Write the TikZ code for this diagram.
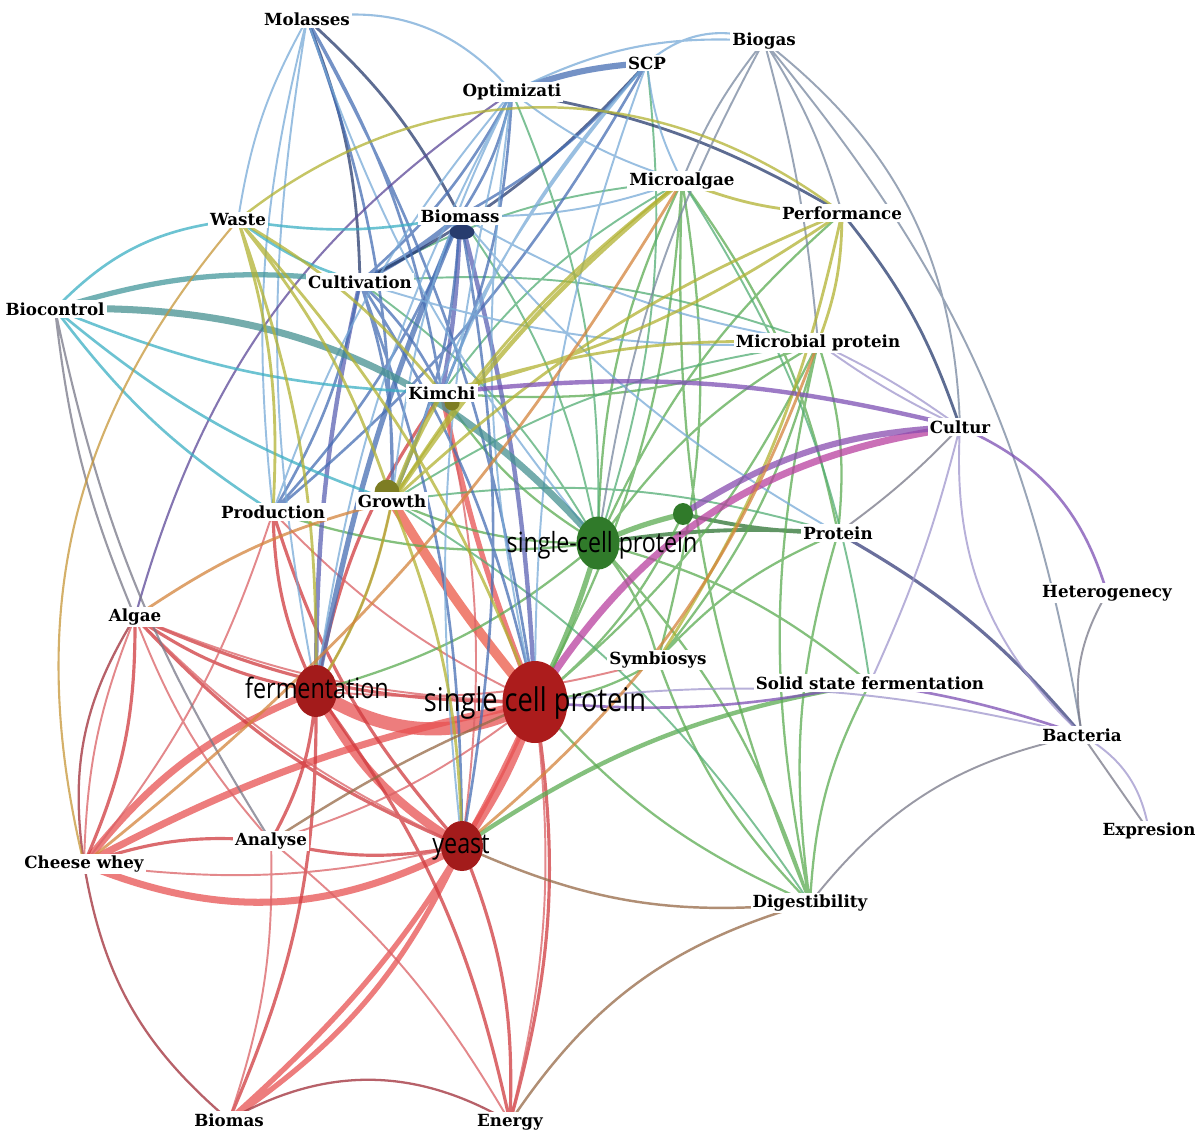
\documentclass[tikz,border=0pt]{standalone}
\usepackage{fontspec}
\usepackage{tikz}
\usetikzlibrary{shapes.geometric}
\newfontfamily\kwfont{DejaVu Serif}
\newfontfamily\hubfont{Open Sans}
\definecolor{rdA}{RGB}{232,82,82}
\definecolor{rdB}{RGB}{208,58,62}
\definecolor{rdC}{RGB}{160,45,55}
\definecolor{grA}{RGB}{92,172,82}
\definecolor{grB}{RGB}{45,115,50}
\definecolor{blA}{RGB}{70,110,180}
\definecolor{blB}{RGB}{40,60,110}
\definecolor{blC}{RGB}{120,170,215}
\definecolor{cyA}{RGB}{60,175,195}
\definecolor{teA}{RGB}{70,145,145}
\definecolor{olA}{RGB}{178,178,50}
\definecolor{puA}{RGB}{125,80,180}
\definecolor{mgA}{RGB}{185,65,160}
\definecolor{lvA}{RGB}{160,150,205}
\definecolor{gyA}{RGB}{120,120,135}
\definecolor{orA}{RGB}{212,132,60}
\definecolor{brA}{RGB}{150,105,70}
\definecolor{hubR}{RGB}{172,28,28}
\definecolor{hubG}{RGB}{48,122,42}
\pgfdeclarelayer{paper}
\pgfdeclarelayer{edges}
\pgfsetlayers{paper,edges,main}

\begin{document}
\begin{tikzpicture}[x=0.02cm, y=-0.02cm,
    kw/.style={font={\kwfont\bfseries\fontsize{9.5}{11}\selectfont}, fill=white, inner sep=1.2pt},
    hubtxt/.style={font={\hubfont\fontsize{#1}{#1}\selectfont}, inner sep=0pt, yscale=1.2, transform shape},
    hub/.style={ellipse, inner sep=0pt, draw=none},
    link/.style={line width=#1, draw opacity=0.75, line cap=round}]
    % Frame
    \begin{pgfonlayer}{paper}
    \fill[white] (0,0) rectangle (1200,1137);
    \end{pgfonlayer}
    \useasboundingbox (0,0) rectangle (1200,1137);

    % Item circles
    \node[hub, fill=hubR, minimum width=1.3cm, minimum height=1.64cm] (scpr) at (535,702) {};
    \node[hub, fill=hubR!95!black, minimum width=0.84cm, minimum height=1.04cm] (fer) at (316,691) {};
    \node[hub, fill=hubR!95!black, minimum width=0.84cm, minimum height=1.0cm] (yst) at (462,846) {};
    \node[hub, fill=hubG, minimum width=0.86cm, minimum height=1.06cm] (scpg) at (598,543) {};
    \node[hub, fill=hubG, minimum width=0.4cm, minimum height=0.44cm] (gdot) at (683,514) {};
    \node[hub, fill=olA!70!black, minimum width=0.5cm, minimum height=0.5cm] (grwdot) at (387,492) {};
    \node[hub, fill=olA!70!black, minimum width=0.3cm, minimum height=0.3cm] (kimdot) at (452,403) {};
    \node[hub, fill=blB, minimum width=0.5cm, minimum height=0.3cm] (bmsdot) at (462,232) {};

    % Keywords
    \node[kw] (mol) at (307,19) {Molasses};
    \node[kw] (opt) at (512,92) {Optimizati};
    \node[kw] (scpu) at (647,63) {SCP};
    \node[kw] (bgs) at (764,41) {Biogas};
    \node[kw] (mic) at (682,181) {Microalgae};
    \node[kw] (prf) at (842,213) {Performance};
    \node[kw] (wst) at (238,220) {Waste};
    \node[kw] (bms) at (460,216) {Biomass};
    \node[kw] (cul) at (360,282) {Cultivation};
    \node[kw] (bio) at (55,309) {Biocontrol};
    \node[kw] (mpr) at (818,343) {Microbial protein};
    \node[kw] (kim) at (442,393) {Kimchi};
    \node[kw] (ctr) at (960,427) {Cultur};
    \node[kw] (prd) at (273,512) {Production};
    \node[kw] (grw) at (392,501) {Growth};
    \node[kw] (prt) at (838,533) {Protein};
    \node[kw] (het) at (1107,593) {Heterogenecy};
    \node[kw] (alg) at (135,617) {Algae};
    \node[kw] (sym) at (658,660) {Symbiosys};
    \node[kw] (ssf) at (870,683) {Solid state fermentation};
    \node[kw] (bac) at (1082,735) {Bacteria};
    \node[kw] (exp) at (1149,831) {Expresion};
    \node[kw] (ana) at (271,841) {Analyse};
    \node[kw] (chw) at (84,864) {Cheese whey};
    \node[kw] (dig) at (810,903) {Digestibility};
    \node[kw] (bim) at (229,1120) {Biomas};
    \node[kw] (eng) at (510,1122) {Energy};

    % Hub labels
    \node[hubtxt=15.5] (scprT) at (535,703) {single cell protein};
    \node[hubtxt=13.3] (ferT) at (317,688) {fermentation};
    \node[hubtxt=13.3] (ystT) at (461,848) {yeast};
    \node[hubtxt=13.2] (scpgT) at (602,545) {single-cell protein};

    % Links
    \begin{pgfonlayer}{edges}
    % red cluster
    \draw[link=7.5pt, rdA] (fer.center) to[bend right=30] (scpr.center);
    \draw[link=5pt, rdA] (fer.center) to[bend right=15] (yst.center)
        (scpr.center) to[bend left=8] (yst.center);
    \draw[link=5.5pt, rdA!85!orange] (scpr.center) to[bend left=4] (grw.center);
    \draw[link=4pt, rdA] (fer.center) to[bend right=15] (chw.center)
        (chw.center) to[bend left=8] (scpr.center)
        (chw.center) to[bend right=25] (yst.center);
    \draw[link=3pt, rdA] (yst.center) to[bend left=15] (bim.center)
        (kim.center) to[bend right=5] (scpr.center)
        (scpr.center) to[bend left=12] (bim.center);
    \draw[link=1.8pt, rdB, bend left=12] (fer.center) to (alg.center) (fer.center) to (prd.center)
        (fer.center) to (bim.center) (fer.center) to (eng.center) (fer.center) to (ana.center)
        (yst.center) to (eng.center) (yst.center) to (ana.center) (yst.center) to (alg.center)
        (scpr.center) to (eng.center) (scpr.center) to (alg.center) (alg.center) to (chw.center)
        (chw.center) to (ana.center) (yst.center) to (prd.center) (fer.center) to (kim.center);
    \draw[link=1.1pt, rdB!80!white, bend right=10] (alg.center) to (ana.center) (alg.center) to (chw.center)
        (chw.center) to (yst.center) (ana.center) to (scpr.center) (prd.center) to (scpr.center)
        (eng.center) to (ana.center) (alg.center) to (scpr.center) (chw.center) to (prd.center)
        (fer.center) to (grw.center) (yst.center) to (kim.center) (eng.center) to (scpr.center)
        (fer.center) to (sym.center) (alg.center) to (yst.center) (bim.center) to (ana.center);
    \draw[link=1.3pt, rdC] (chw.center) to[bend right=20] (bim.center)
        (bim.center) to[bend left=30] (eng.center)
        (chw.center) to[bend left=20] (alg.center);
    % green cluster
    \draw[link=3pt, grA] (scpg.center) to[bend left=5] (scpr.center)
        (scpg.center) to[bend left=5] (gdot.center);
    \draw[link=2.2pt, grB] (scpg.center) to[bend left=6] (prt.center)
        (gdot.center) to[bend right=6] (prt.center);
    \draw[link=2.5pt, grA] (yst.center) to[bend left=12] (ssf.center);
    \draw[link=1.3pt, grA, bend left=12] (scpg.center) to (mpr.center) (scpg.center) to (sym.center)
        (scpg.center) to (mic.center) (scpg.center) to (dig.center) (scpg.center) to (ssf.center)
        (scpg.center) to (kim.center) (scpg.center) to (prf.center) (scpg.center) to (grw.center)
        (scpg.center) to (prd.center) (scpg.center) to (fer.center) (gdot.center) to (scpr.center)
        (dig.center) to (sym.center) (dig.center) to (prt.center) (dig.center) to (mpr.center)
        (dig.center) to (mic.center) (dig.center) to (ssf.center) (sym.center) to (prt.center)
        (mpr.center) to (prt.center) (mpr.center) to (sym.center) (mic.center) to (prt.center)
        (dig.center) to (scpr.center) (sym.center) to (scpr.center) (mic.center) to (sym.center)
        (mpr.center) to (scpr.center) (mpr.center) to (kim.center) (mic.center) to (scpr.center);
    \draw[link=1.1pt, grA!70!cyA, bend right=12] (scpg.center) to (opt.center) (scpg.center) to (scpu.center)
        (scpg.center) to (bms.center) (scpg.center) to (cul.center) (mpr.center) to (grw.center)
        (mic.center) to (kim.center) (mpr.center) to (cul.center) (prt.center) to (grw.center)
        (ssf.center) to (mic.center) (dig.center) to (grw.center) (mic.center) to (cul.center);
    % blue cluster
    \draw[link=3.5pt, blA] (opt.center) to[bend left=8] (scpu.center);
    \draw[link=3pt, blA] (bms.center) to[bend left=6] (cul.center)
        (bms.center) to[bend right=6] (fer.center);
    \draw[link=2.5pt, blA!60!puA] (bms.center) to[bend left=4] (kim.center)
        (bms.center) to[bend left=6] (scpr.center)
        (cul.center) to[bend right=6] (fer.center);
    \draw[link=1.6pt, blB, bend left=10] (mol.center) to (bms.center) (opt.center) to (prf.center)
        (prf.center) to (ctr.center) (scpu.center) to (cul.center) (mol.center) to (cul.center);
    \draw[link=1.5pt, blA, bend left=10] (opt.center) to (bms.center) (opt.center) to (cul.center)
        (scpu.center) to (bms.center) (bms.center) to (grw.center) (bms.center) to (yst.center)
        (cul.center) to (grw.center) (cul.center) to (scpr.center) (cul.center) to (yst.center)
        (mol.center) to (grw.center) (mol.center) to (kim.center) (bms.center) to (prd.center)
        (cul.center) to (prd.center) (cul.center) to (kim.center) (opt.center) to (kim.center)
        (mol.center) to (scpr.center) (scpu.center) to (prd.center);
    \draw[link=1.1pt, blC, bend right=10] (mol.center) to (wst.center) (mol.center) to (scpg.center)
        (mol.center) to (prd.center) (mol.center) to (fer.center) (opt.center) to (grw.center)
        (opt.center) to (prd.center) (opt.center) to (fer.center) (opt.center) to (scpr.center)
        (scpu.center) to (mic.center) (scpu.center) to (kim.center) (scpu.center) to (scpr.center)
        (scpu.center) to (grw.center) (opt.center) to (mic.center) (bms.center) to (mpr.center)
        (bms.center) to (mic.center) (cul.center) to (mpr.center) (bms.center) to (prt.center)
        (opt.center) to (yst.center);
    \draw[link=1.2pt, blC] (mol.center) to[bend left=30] (opt.center)
        (scpu.center) to[bend left=30] (bgs.center)
        (bgs.center) to[bend right=15] (opt.center);
    \draw[link=1.1pt, gyA!70!blC] (bgs.center) to[bend left=25] (ctr.center)
        (bgs.center) to[bend right=8] (mic.center)
        (bgs.center) to[bend left=8] (prf.center)
        (bgs.center) to[bend left=5] (mpr.center)
        (bgs.center) to[bend right=10] (scpg.center)
        (bgs.center) to[bend left=15] (bac.center);
    \draw[link=1.2pt, puA!60!blB] (opt.center) to[bend right=20] (alg.center);
    % cyan cluster
    \draw[link=4pt, teA] (bio.center) to[bend left=25] (scpg.center);
    \draw[link=3pt, teA!80!cyA] (bio.center) to[bend left=12] (cul.center);
    \draw[link=1.5pt, cyA, bend right=10] (bio.center) to (prd.center) (bio.center) to (grw.center)
        (bio.center) to (kim.center) (wst.center) to (cul.center) (wst.center) to (bms.center);
    \draw[link=1.5pt, cyA] (bio.center) to[bend left=20] (wst.center);
    \draw[link=1.2pt, gyA] (bio.center) to[bend right=8] (alg.center)
        (bio.center) to[bend right=10] (ana.center);
    % olive cluster
    \draw[link=2.5pt, olA] (grw.center) to[bend left=5] (kim.center)
        (mic.center) to[bend right=8] (grw.center);
    \draw[link=1.6pt, olA, bend left=10] (wst.center) to (grw.center) (wst.center) to (prd.center)
        (wst.center) to (kim.center) (wst.center) to (fer.center) (grw.center) to (fer.center)
        (grw.center) to (mic.center) (grw.center) to (prf.center) (prf.center) to (mpr.center)
        (prf.center) to (sym.center) (prf.center) to (mic.center) (kim.center) to (mpr.center)
        (grw.center) to (yst.center) (wst.center) to (scpr.center) (prf.center) to (kim.center);
    \draw[link=1.4pt, olA] (wst.center) to[bend left=38] (prf.center);
    % purple cluster
    \draw[link=4pt, mgA] (ctr.center) to[bend right=25] (scpr.center);
    \draw[link=3.5pt, puA!80!mgA] (gdot.center) to[bend left=15] (ctr.center);
    \draw[link=2.5pt, puA] (kim.center) to[bend left=10] (ctr.center);
    \draw[link=1.5pt, puA] (ctr.center) to[bend left=25] (het.center)
        (ssf.center) to[bend left=5] (bac.center)
        (scpr.center) to[bend right=8] (ssf.center);
    \draw[link=1.8pt, blB!80!puA] (prt.center) to[bend left=10] (bac.center);
    \draw[link=1.1pt, lvA] (ctr.center) to[bend right=25] (bac.center)
        (bac.center) to[bend left=25] (exp.center)
        (ctr.center) to[bend right=5] (mpr.center)
        (ctr.center) to[bend left=5] (mpr.center)
        (ctr.center) to[bend left=5] (ssf.center)
        (bac.center) to[bend right=10] (scpr.center);
    \draw[link=1.1pt, gyA] (bac.center) to[bend left=20] (het.center)
        (bac.center) to (exp.center)
        (ctr.center) to[bend left=5] (prt.center)
        (bac.center) to[bend right=20] (dig.center);
    % long orange and brown links
    \draw[link=1.6pt, orA] (chw.center) to[bend right=10] (mic.center)
        (mpr.center) to[bend left=15] (yst.center)
        (alg.center) to[bend left=10] (grw.center);
    \draw[link=1.2pt, orA!60!olA] (chw.center) to[bend left=27] (wst.center);
    \draw[link=1.4pt, brA] (yst.center) to[bend right=15] (dig.center)
        (eng.center) to[bend left=20] (dig.center)
        (ana.center) to[bend left=5] (scpr.center);
    \end{pgfonlayer}
\end{tikzpicture}
\end{document}
